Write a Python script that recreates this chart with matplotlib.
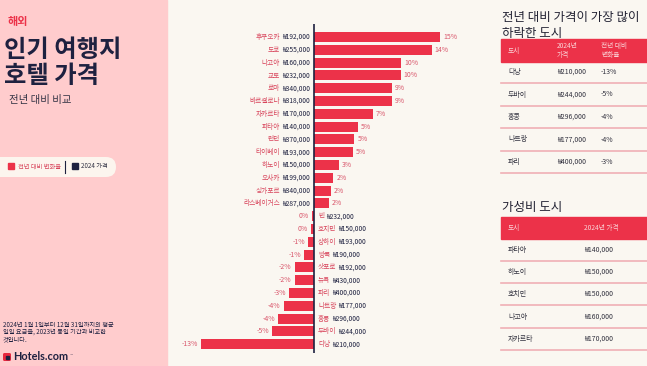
import matplotlib
matplotlib.use("Agg")
import matplotlib.pyplot as plt
import matplotlib.transforms as mtransforms
from matplotlib.patches import Rectangle, FancyBboxPatch

plt.rcParams["font.family"] = ["Noto Sans CJK KR", "DejaVu Sans"]

# bar chart data
cities = ["후쿠오카", "도쿄", "나고야", "교토", "로마", "바르셀로나", "자카르타", "파타야",
          "런던", "타이베이", "하노이", "오사카", "싱가포르", "라스베이거스", "빈", "호치민",
          "상하이", "방콕", "삿포로", "뉴욕", "파리", "나트랑", "홍콩", "두바이", "다낭"]
prices = ["₩192,000", "₩255,000", "₩160,000", "₩232,000", "₩340,000", "₩318,000",
          "₩170,000", "₩140,000", "₩370,000", "₩193,000", "₩150,000", "₩199,000",
          "₩340,000", "₩287,000", "₩232,000", "₩150,000", "₩193,000", "₩190,000",
          "₩192,000", "₩430,000", "₩400,000", "₩177,000", "₩296,000", "₩244,000",
          "₩210,000"]
change = [15.0, 14.0, 10.4, 10.3, 9.3, 9.3, 7.0, 5.2, 4.8, 4.6, 3.0, 2.3, 2.0, 1.8,
          -0.2, -0.4, -0.7, -1.2, -2.3, -2.3, -3.0, -3.6, -4.3, -5.0, -13.4]

# tables
drop_cities = ["다낭", "두바이", "홍콩", "나트랑", "파리"]
drop_prices = ["₩210,000", "₩244,000", "₩296,000", "₩177,000", "₩400,000"]
drop_change = ["-13%", "-5%", "-4%", "-4%", "-3%"]
value_cities = ["파타야", "하노이", "호치민", "나고야", "자카르타"]
value_prices = ["₩140,000", "₩150,000", "₩150,000", "₩160,000", "₩170,000"]

PINK = "#FFCCCD"
CREAM = "#FAF7F1"
RED = "#EC3249"
NAVY = "#1E2140"
LABEL_RED = "#D8455C"
PCT = "#D9566B"
LINE = "#F0B0B5"

fig = plt.figure(figsize=(6.47, 3.66), dpi=100)
fig.patch.set_facecolor(CREAM)
renderer = fig.canvas.get_renderer()

# background / decoration axes in pixel coordinates
bg = fig.add_axes([0, 0, 1, 1])
bg.set_xlim(0, 647)
bg.set_ylim(366, 0)
bg.axis("off")
bg.add_patch(Rectangle((0, 0), 167, 366, color=PINK, zorder=0))

bg.text(8, 21, "해외", color=RED, fontsize=8, va="center", weight="bold")
bg.text(4, 50, "인기 여행지", color=NAVY, fontsize=17.5, va="center", weight="bold")
bg.text(4, 76, "호텔 가격", color=NAVY, fontsize=17.5, va="center", weight="bold")
bg.text(9, 100, "전년 대비 비교", color="#333344", fontsize=7.5, va="center")

# legend pill
bg.add_patch(FancyBboxPatch((-12, 157), 128, 20, boxstyle="round,pad=0,rounding_size=10",
                            facecolor="#FCF5EE", edgecolor="none", zorder=1))
bg.add_patch(Rectangle((8, 163), 6, 6, color=RED, zorder=2))
bg.text(18, 166.5, "전년 대비 변화율", color=LABEL_RED, fontsize=4.5, va="center", zorder=3)
bg.plot([65, 65], [161, 173], color=NAVY, lw=0.8, zorder=2)
bg.add_patch(Rectangle((72, 163), 6, 6, color=NAVY, zorder=2))
bg.text(81, 166.5, "2024 가격", color="#333344", fontsize=4.5, va="center", zorder=3)

# footnote and logo
foot = ["2024년 1월 1일부터 12월 31일까지의 평균",
        "일일 요금을, 2023년 동일 기간과 비교한",
        "것입니다."]
for k, line in enumerate(foot):
    bg.text(3, 325 + k * 7, line, color=NAVY, fontsize=4.5, va="center")
bg.add_patch(FancyBboxPatch((3, 353), 8, 8, boxstyle="round,pad=0,rounding_size=1.5",
                            facecolor="#E8273F", edgecolor="none"))
bg.add_patch(Rectangle((5.5, 355.5), 3, 3, color=NAVY))
logo = bg.text(13, 357, "Hotels.com", color=NAVY, fontsize=7.8, va="center", weight="bold",
               family="Lato")
lw_px = logo.get_window_extent(renderer).width
bg.text(13 + lw_px + 1, 354, "™", color=NAVY, fontsize=2.5, va="center", family="DejaVu Sans")

# table 1
bg.text(502, 17, "전년 대비 가격이 가장 많이", color="#222233", fontsize=9, va="center")
bg.text(502, 33, "하락한 도시", color="#222233", fontsize=9, va="center")
bg.add_patch(Rectangle((501, 39), 146, 23, color=RED))
bg.text(508, 50.5, "도시", color="#FAD2D6", fontsize=4.8, va="center")
bg.text(557, 50.5, "2024년\n가격", color="#FAD2D6", fontsize=4.8, va="center", linespacing=1.1)
bg.text(601, 50.5, "전년 대비\n변화율", color="#FAD2D6", fontsize=4.8, va="center", linespacing=1.1)
rows1 = [72, 94.5, 117, 139.5, 162]
for y, c, p, ch in zip(rows1, drop_cities, drop_prices, drop_change):
    bg.text(508, y, c, color="#333340", fontsize=5, va="center")
    bg.text(557, y, p, color="#333340", fontsize=5, va="center")
    bg.text(601, y, ch, color="#333340", fontsize=5, va="center")
    bg.plot([501, 647], [y + 11, y + 11], color=LINE, lw=1.2)

# table 2
bg.text(502, 207, "가성비 도시", color="#222233", fontsize=9, va="center")
bg.add_patch(Rectangle((501, 217), 146, 22, color=RED))
bg.text(508, 228, "도시", color="#FAD2D6", fontsize=4.8, va="center")
bg.text(584, 228, "2024년 가격", color="#FAD2D6", fontsize=4.8, va="center")
rows2 = [250, 272, 294, 317, 339]
for y, c, p in zip(rows2, value_cities, value_prices):
    bg.text(508, y, c, color="#333340", fontsize=5, va="center")
    bg.text(584, y, p, color="#333340", fontsize=5, va="center")
    bg.plot([501, 647], [y + 11, y + 11], color=LINE, lw=1.2)

# bar chart axes: zero at x=314px, 8.4 px per %, rows 12.8px apart starting y=37
W, H = 647, 366
x0, x1, y0, y1 = 180, 480, 24, 353
ax = fig.add_axes([x0 / W, 1 - y1 / H, (x1 - x0) / W, (y1 - y0) / H])
ax.patch.set_alpha(0)
ax.set_xlim((x0 - 314) / 8.4, (x1 - 314) / 8.4)
ax.set_ylim((y1 - 37) / 12.8, (y0 - 37) / 12.8)
ax.axis("off")

pos = list(range(len(cities)))
ax.barh(pos, change, height=0.78, color=RED, zorder=2)
ax.axvline(0, color=NAVY, lw=1.2, zorder=3)


def shifted(dx):
    return mtransforms.offset_copy(ax.transData, fig=fig, x=dx, y=0, units="dots")


for i, (c, p, v) in enumerate(zip(cities, prices, change)):
    r = int(round(v))
    pct = f"{r}%" if r != 0 else "0%"
    if v > 0:
        t = ax.text(0, i, p, transform=shifted(-4), ha="right", va="center",
                    fontsize=4.8, color=NAVY)
        w = t.get_window_extent(renderer).width
        ax.text(0, i, c, transform=shifted(-4 - w - 2), ha="right", va="center",
                fontsize=4.8, color=LABEL_RED)
        ax.text(v, i, pct, transform=shifted(3), ha="left", va="center",
                fontsize=5, color=PCT)
    else:
        t = ax.text(0, i, c, transform=shifted(4), ha="left", va="center",
                    fontsize=4.8, color=LABEL_RED)
        w = t.get_window_extent(renderer).width
        ax.text(0, i, p, transform=shifted(4 + w + 2), ha="left", va="center",
                fontsize=4.8, color=NAVY)
        ax.text(v, i, pct, transform=shifted(-3), ha="right", va="center",
                fontsize=5, color=PCT)

fig.savefig("out.png", dpi=100, facecolor=fig.get_facecolor())
